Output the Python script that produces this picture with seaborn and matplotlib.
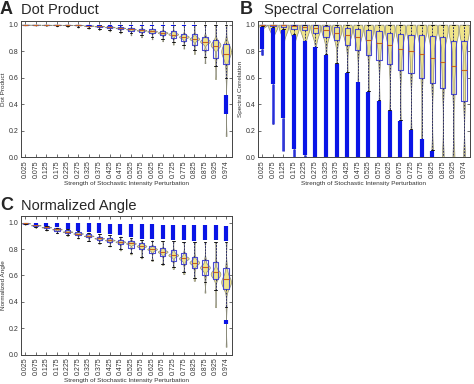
import numpy as np
import pandas as pd
import matplotlib
matplotlib.use("Agg")
import matplotlib.pyplot as plt
import seaborn as sns

sns.set_style("ticks")
plt.rcParams['font.family'] = ['Liberation Sans', 'DejaVu Sans']

strengths = ['0.025', '0.075', '0.125', '0.175', '0.225', '0.275', '0.325', '0.375', '0.425', '0.475',
             '0.525', '0.575', '0.625', '0.675', '0.725', '0.775', '0.825', '0.875', '0.925', '0.974']
nan = np.nan

# ---- A: Dot Product ----
a_med = [1.0, 1.0, 0.999, 0.999, 0.998, 0.997, 0.993, 0.988, 0.982, 0.975,
         0.965, 0.957, 0.95, 0.937, 0.925, 0.905, 0.89, 0.87, 0.836, 0.78]
a_q1 = [0.999, 0.999, 0.998, 0.997, 0.996, 0.994, 0.988, 0.982, 0.975, 0.965,
        0.955, 0.945, 0.935, 0.92, 0.90, 0.88, 0.85, 0.81, 0.748, 0.70]
a_q3 = [1.0, 1.0, 1.0, 1.0, 0.999, 0.999, 0.997, 0.993, 0.987, 0.982,
        0.975, 0.97, 0.965, 0.955, 0.95, 0.93, 0.93, 0.91, 0.887, 0.854]
a_wlo = [0.997, 0.996, 0.994, 0.992, 0.99, 0.985, 0.977, 0.968, 0.958, 0.945,
         0.935, 0.92, 0.91, 0.894, 0.87, 0.85, 0.81, 0.76, 0.69, 0.60]
a_whi = [1.0] * 20
a_vlo = [0.995, 0.993, 0.99, 0.987, 0.984, 0.978, 0.97, 0.96, 0.95, 0.935,
         0.92, 0.905, 0.89, 0.875, 0.85, 0.82, 0.78, 0.71, 0.59, 0.16]
a_mode = [1.0, 1.0, 0.999, 0.999, 0.998, 0.997, 0.993, 0.988, 0.982, 0.975,
          0.967, 0.958, 0.95, 0.94, 0.93, 0.91, 0.895, 0.875, 0.85, 0.80]
a_flo = [nan] * 19 + [0.33]
a_fhi = [nan] * 19 + [0.47]
a_slo = [nan] * 20
a_ulo = [nan] * 6 + [0.99] * 11 + [nan] * 3
a_uhi = [nan] * 6 + [1.0] * 11 + [nan] * 3

# ---- B: Spectral Correlation ----
b_med = [1.0, 0.998, 0.995, 0.99, 0.985, 0.975, 0.96, 0.94, 0.92, 0.905,
         0.887, 0.86, 0.844, 0.82, 0.80, 0.78, 0.75, 0.72, 0.69, 0.657]
b_q1 = [0.997, 0.99, 0.98, 0.97, 0.96, 0.94, 0.91, 0.886, 0.85, 0.81,
        0.77, 0.735, 0.70, 0.66, 0.635, 0.60, 0.56, 0.525, 0.48, 0.425]
b_q3 = [1.0, 1.0, 1.0, 1.0, 0.998, 0.995, 0.99, 0.98, 0.975, 0.97,
        0.96, 0.95, 0.94, 0.93, 0.925, 0.92, 0.915, 0.91, 0.88, 0.874]
b_wlo = [0.99, 0.98, 0.965, 0.93, 0.88, 0.835, 0.777, 0.71, 0.64, 0.57,
         0.50, 0.43, 0.353, 0.28, 0.21, 0.14, 0.055, 0.0, 0.0, 0.0]
b_whi = [1.0] * 20
b_vlo = [0.77, 0.25, 0.05] + [0.0] * 17
b_mode = [1.0, 1.0, 0.995, 0.99, 0.985, 0.98, 0.98, 0.975, 0.975, 0.975,
          0.975, 0.975, 0.975, 0.975, 0.975, 0.975, 0.975, 0.975, 0.97, 0.97]
b_flo = [0.82, 0.55, 0.30, 0.06, 0.02] + [0.0] * 12 + [nan] * 3
b_fhi = [0.985, 0.975, 0.96, 0.92, 0.875, 0.83, 0.77, 0.705, 0.635, 0.565,
         0.495, 0.425, 0.35, 0.275, 0.205, 0.135, 0.05, nan, nan, nan]
b_slo = [0.77, 0.25, 0.05, 0.0, 0.0] + [nan] * 15
b_ulo = [nan] * 20
b_uhi = [nan] * 20

# ---- C: Normalized Angle ----
c_med = [0.995, 0.98, 0.965, 0.95, 0.932, 0.918, 0.90, 0.882, 0.868, 0.855,
         0.843, 0.823, 0.80, 0.78, 0.755, 0.73, 0.697, 0.665, 0.625, 0.57]
c_q1 = [0.993, 0.975, 0.958, 0.94, 0.922, 0.905, 0.888, 0.868, 0.852, 0.835,
        0.81, 0.80, 0.773, 0.75, 0.71, 0.687, 0.654, 0.60, 0.57, 0.50]
c_q3 = [0.997, 0.985, 0.972, 0.958, 0.942, 0.93, 0.912, 0.895, 0.882, 0.87,
        0.864, 0.843, 0.823, 0.806, 0.79, 0.77, 0.742, 0.72, 0.70, 0.66]
c_wlo = [0.988, 0.965, 0.945, 0.925, 0.905, 0.885, 0.865, 0.845, 0.825, 0.80,
         0.77, 0.74, 0.72, 0.69, 0.667, 0.63, 0.58, 0.55, 0.49, 0.36]
c_whi = [0.999, 0.99, 0.975, 0.962, 0.95, 0.935, 0.925, 0.915, 0.905, 0.895,
         0.885, 0.87, 0.865, 0.86, 0.86, 0.855, 0.85, 0.855, 0.855, 0.85]
c_vlo = [0.985, 0.96, 0.94, 0.92, 0.90, 0.88, 0.86, 0.84, 0.82, 0.79,
         0.76, 0.73, 0.71, 0.68, 0.65, 0.61, 0.56, 0.47, 0.36, 0.06]
c_mode = [0.995, 0.98, 0.965, 0.95, 0.932, 0.918, 0.90, 0.882, 0.868, 0.855,
          0.843, 0.823, 0.80, 0.78, 0.755, 0.73, 0.70, 0.66, 0.61, 0.55]
c_flo = [nan] * 19 + [0.23]
c_fhi = [nan] * 19 + [0.26]
c_slo = [nan] * 20
c_ulo = [nan, 0.985, 0.975, 0.965, 0.955, 0.94, 0.93, 0.92, 0.914, 0.905,
         0.894, 0.88, 0.874, 0.874, 0.87, 0.87, 0.86, 0.87, 0.87, 0.864]
c_uhi = [nan, 0.995, 1.0, 1.0, 0.995, 0.995, 0.995, 0.995, 0.99, 0.99,
         0.99, 0.99, 0.99, 0.98, 0.98, 0.98, 0.98, 0.98, 0.98, 0.975]

VIOLIN = '#efe48a'
FLIER = '#0a14e6'


def panel(ax, med, q1, q3, wlo, whi, vlo, mode, flo, fhi, slo, ulo, uhi, ylabel, ymax):
    # long table for the violin layer, built from the summary values
    rows = []
    for i, s in enumerate(strengths):
        vals = ([vlo[i], wlo[i]] + [q1[i]] * 2 + [med[i]] * 3 + [q3[i]] * 2
                + [mode[i]] * 8 + [whi[i]])
        rows += [(s, v) for v in vals]
    df = pd.DataFrame(rows, columns=['strength', 'value'])
    sns.violinplot(data=df, x='strength', y='value', order=strengths, color=VIOLIN,
                   saturation=1, linecolor='#8a8a7a', linewidth=0.5, inner=None, cut=0,
                   density_norm='width', width=0.92, bw_adjust=0.45, ax=ax)

    stats = [dict(med=med[i], q1=q1[i], q3=q3[i], whislo=wlo[i], whishi=whi[i])
             for i in range(len(strengths))]
    pos = np.arange(len(strengths))
    ax.bxp(stats, positions=pos, widths=0.5, showfliers=False, manage_ticks=False,
           boxprops=dict(color='#4a4ad0', lw=0.8),
           whiskerprops=dict(color='#30306a', lw=0.7, linestyle=(0, (2, 1.2))),
           capprops=dict(color='#111111', lw=0.7),
           medianprops=dict(color='#c8641e', lw=0.8))

    ax.vlines(pos, slo, flo, colors=FLIER, lw=2, alpha=0.75, zorder=5)
    ax.vlines(pos, flo, fhi, colors=FLIER, lw=3.0, zorder=6)
    ax.vlines(pos, ulo, uhi, colors=FLIER, lw=3.0, zorder=6)

    ax.set_xlim(-0.4, 19.55)
    ax.set_ylim(0, ymax)
    ax.set_yticks([0.0, 0.2, 0.4, 0.6, 0.8, 1.0])
    ax.set_yticklabels(['0.0', '0.2', '0.4', '0.6', '0.8', '1.0'])
    ax.set_xticks(pos)
    ax.set_xticklabels(strengths, rotation=90)
    ax.tick_params(labelsize=5, length=2, width=0.5, direction='in',
                   top=True, right=True, pad=2, colors='#333333')
    ax.set_xlabel('Strength of Stochastic Intensity Perturbation', fontsize=4.6,
                  labelpad=2, color='#333333')
    ax.set_ylabel(ylabel, fontsize=4.6, labelpad=2, color='#333333')
    for sp in ax.spines.values():
        sp.set_visible(True)
        sp.set_linewidth(0.7)
        sp.set_color('#444444')


fig = plt.figure(figsize=(4.74, 3.84), dpi=100)
ax_a = fig.add_axes([0.0443, 0.5904, 0.445, 0.3557])
ax_b = fig.add_axes([0.5443, 0.5904, 0.447, 0.3557])
ax_c = fig.add_axes([0.0443, 0.0763, 0.445, 0.361])

panel(ax_a, a_med, a_q1, a_q3, a_wlo, a_whi, a_vlo, a_mode, a_flo, a_fhi, a_slo,
      a_ulo, a_uhi, 'Dot Product', 1.03)
panel(ax_b, b_med, b_q1, b_q3, b_wlo, b_whi, b_vlo, b_mode, b_flo, b_fhi, b_slo,
      b_ulo, b_uhi, 'Spectral Correlation', 1.03)
panel(ax_c, c_med, c_q1, c_q3, c_wlo, c_whi, c_vlo, c_mode, c_flo, c_fhi, c_slo,
      c_ulo, c_uhi, 'Normalized Angle', 1.05)

for x_l, x_t, y, letter, title in [(0.0, 0.045, 0.963, 'A', 'Dot Product'),
                                   (0.505, 0.556, 0.963, 'B', 'Spectral Correlation'),
                                   (0.0, 0.045, 0.453, 'C', 'Normalized Angle')]:
    fig.text(x_l, y, letter, fontsize=13, fontweight='bold', va='baseline', ha='left')
    fig.text(x_t, y, title, fontsize=10.5, va='baseline', ha='left')

fig.savefig('out.png', dpi=100)
